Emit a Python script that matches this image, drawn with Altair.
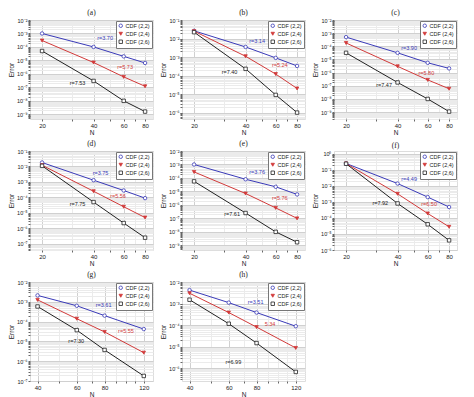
import altair as alt
import pandas as pd

SERIES = ["CDF (2,2)", "CDF (2,4)", "CDF (2,6)"]
COLORS = ["#3a3ab8", "#d23a3a", "#222222"]
FILLS = ["white", "#d23a3a", "white"]
SHAPES = ["circle", "triangle-down", "square"]

PANELS = ["(a)", "(b)", "(c)", "(d)", "(e)", "(f)", "(g)", "(h)"]
N_AF = [20, 40, 60, 80]
N_GH = [40, 60, 80, 120]

# errors per panel: [CDF(2,2), CDF(2,4), CDF(2,6)]
ERR_A = [[1e-3, 1e-4, 2e-5, 6.5e-6], [3e-4, 7e-6, 6e-7, 1.2e-7], [5e-5, 3e-7, 1e-8, 1.6e-9]]
ERR_B = [[2.6e-2, 3.5e-3, 9e-4, 3.3e-4], [2.5e-2, 1.1e-3, 1.2e-4, 2e-5], [2.2e-2, 2.3e-4, 9e-6, 1e-6]]
ERR_C = [[5e-4, 3.2e-5, 5.6e-6, 2.1e-6], [1.8e-4, 3e-6, 2.8e-7, 6e-8], [3.2e-5, 1.8e-7, 1e-8, 1.1e-9]]
ERR_D = [[1.8e-2, 1.3e-3, 2.8e-4, 9e-5], [1.2e-2, 2.5e-4, 2.5e-5, 5e-6], [1.1e-2, 5e-5, 2.2e-6, 2.5e-7]]
ERR_E = [[1e-3, 8e-5, 2.2e-5, 6e-6], [2.8e-4, 7e-6, 6e-7, 1e-7], [5.6e-5, 2.5e-7, 1e-8, 1.7e-9]]
ERR_F = [[0.25, 1.4e-2, 2e-3, 4.8e-4], [0.25, 3.2e-3, 1.9e-4, 2.8e-5], [0.24, 8e-4, 4e-5, 4e-6]]
ERR_G = [[2.1e-3, 6.3e-4, 2e-4, 4.2e-5], [1.25e-3, 1.4e-4, 3e-5, 2.7e-6], [5.8e-4, 3.7e-5, 3.7e-6, 1.8e-7]]
ERR_H = [[4.2e-3, 1.1e-3, 3.8e-4, 8.8e-5], [3e-3, 3.8e-4, 8e-5, 8.6e-6], [1.5e-3, 1.15e-4, 1.45e-5, 6.6e-7]]

# y-axis ranges
Y_DOMAINS = [[4.5e-10, 1e-2], [4.5e-7, 1e-1], [3e-10, 1e-2], [4e-8, 1e-1],
             [4.5e-10, 1e-2], [1e-6, 1.5], [1e-7, 1e-2], [2.5e-7, 1e-2]]
Y_EXP = [(-9, -2), (-6, -1), (-9, -2), (-7, -1), (-9, -2), (-6, 0), (-7, -2), (-6, -2)]
X_DOMAIN_AF = [17, 89]
X_DOMAIN_GH = [37, 132]

# rate labels: text, N position, error position (one per series)
RATE_TEXT = [["r=3.70", "r=5.73", "r=7.53"], ["r=3.14", "r=5.24", "r=7.40"],
             ["r=3.90", "r=5.80", "r=7.47"], ["r=3.75", "r=5.56", "r=7.75"],
             ["r=3.76", "r=5.76", "r=7.61"], ["r=4.49", "r=6.50", "r=7.92"],
             ["r=3.61", "r=5.55", "r=7.30"], ["r=3.51", "5.34", "r=6.99"]]
RATE_N = [[42, 55, 29], [42, 57, 29], [42, 53, 30], [39.5, 50, 29],
          [42, 57, 30], [42, 55, 28.5], [73, 92, 55], [73, 87, 58]]
RATE_Y = [[4.5e-4, 3.5e-6, 2.2e-7], [7e-3, 3.5e-4, 1.5e-4], [8e-5, 1e-6, 1.1e-7],
          [4e-3, 1.3e-4, 4e-5], [2.6e-4, 3.3e-6, 2e-7], [2.8e-2, 7e-4, 9e-4],
          [7e-4, 3.3e-5, 1.1e-5], [1.2e-3, 1.1e-4, 2e-6]]

ALL_ERR = [ERR_A, ERR_B, ERR_C, ERR_D, ERR_E, ERR_F, ERR_G, ERR_H]

LN = "(log(datum.value)/LN10)"
MAJOR = f"abs({LN} - round({LN})) < 0.01"
SUP = "['','¹','²','³','⁴','⁵','⁶','⁷','⁸','⁹']"
Y_LABEL = (f"{MAJOR} ? ('10' + (round({LN}) == 0 ? '⁰' : '⁻' + {SUP}[-round({LN})])) : ''")


def panel(i):
    gh = i >= 6
    ns = N_GH if gh else N_AF
    rows = []
    for s, name in enumerate(SERIES):
        for n, e in zip(ns, ALL_ERR[i][s]):
            rows.append({"N": n, "err": e, "series": name})
    df = pd.DataFrame(rows)
    lab = pd.DataFrame({"N": RATE_N[i], "err": RATE_Y[i], "txt": RATE_TEXT[i], "series": SERIES})

    lo, hi = Y_EXP[i]
    yvals = []
    for k in range(lo - 1, hi + 1):
        for m in range(1, 10):
            v = m * 10.0 ** k
            if Y_DOMAINS[i][0] <= v <= Y_DOMAINS[i][1] * 1.0001:
                yvals.append(float(f"{v:.3g}"))
    if gh:
        xvals = [40, 50, 60, 70, 80, 90, 100, 110, 120]
        xmaj = "[40,60,80,120]"
        xdom = X_DOMAIN_GH
    else:
        xvals = [20, 30, 40, 50, 60, 70, 80]
        xmaj = "[20,40,60,80]"
        xdom = X_DOMAIN_AF

    xaxis = alt.Axis(values=xvals, labelExpr=f"indexof({xmaj}, datum.value) >= 0 ? datum.label : ''",
                     title="N", gridColor={"condition": {"test": f"indexof({xmaj}, datum.value) >= 0", "value": "#d0d0d0"}, "value": "#ebebeb"},
                     labelFontSize=6, titleFontSize=6.5, titleFontWeight="normal", titlePadding=1,
                     tickSize=2, labelPadding=1, domain=False, tickColor="#666", labelColor="#222", titleColor="#222")
    yaxis = alt.Axis(values=yvals, labelExpr=Y_LABEL, title="Error",
                     gridColor={"condition": {"test": MAJOR, "value": "#d0d0d0"}, "value": "#ebebeb"},
                     labelFontSize=5.5, titleFontSize=6.5, titleFontWeight="normal", titlePadding=2,
                     tickSize=2, labelPadding=1, domain=False, tickColor="#666", labelColor="#222", titleColor="#222")

    x = alt.X("N:Q", scale=alt.Scale(type="log", domain=xdom, nice=False), axis=xaxis)
    y = alt.Y("err:Q", scale=alt.Scale(type="log", domain=Y_DOMAINS[i], nice=False), axis=yaxis)
    leg = alt.Legend(title=None, orient="top-right", offset=1, padding=2, labelFontSize=5.5,
                     symbolSize=12, symbolStrokeWidth=0.8, rowPadding=0, fillColor="white",
                     strokeColor="#777", labelOffset=2, symbolOffset=0, labelColor="#222")
    stroke = alt.Stroke("series:N", scale=alt.Scale(domain=SERIES, range=COLORS), legend=leg)
    shape = alt.Shape("series:N", scale=alt.Scale(domain=SERIES, range=SHAPES), legend=leg)
    fill = alt.Fill("series:N", scale=alt.Scale(domain=SERIES, range=FILLS), legend=leg)

    base = alt.Chart(df)
    lines = base.mark_line(strokeWidth=1).encode(x=x, y=y, stroke=stroke, detail="series:N")
    pts = base.mark_point(size=12, strokeWidth=0.8, opacity=1, fillOpacity=1).encode(
        x=x, y=y, stroke=stroke, shape=shape, fill=fill)
    txt = alt.Chart(lab).mark_text(align="left", baseline="middle", fontSize=5.5).encode(
        x=x, y=y, text="txt:N",
        color=alt.Color("series:N", scale=alt.Scale(domain=SERIES, range=COLORS), legend=None))
    return alt.layer(lines, pts, txt).properties(
        width=123, height=99,
        title=alt.TitleParams(PANELS[i], font="Liberation Serif", fontSize=7.5, fontWeight="normal",
                              offset=2, anchor="middle", color="#222")
    )


chart = alt.concat(*[panel(i) for i in range(8)], columns=3, spacing={"row": 3, "column": 6}).resolve_scale(
    color="independent", shape="independent", fill="independent", stroke="independent"
).resolve_legend(color="independent", shape="independent", fill="independent", stroke="independent").properties(padding=0).configure_view(
    stroke="#888", strokeWidth=0.6
).configure(font="Liberation Sans")

chart.save("out.html", embed_options={"renderer": "svg", "actions": False})
